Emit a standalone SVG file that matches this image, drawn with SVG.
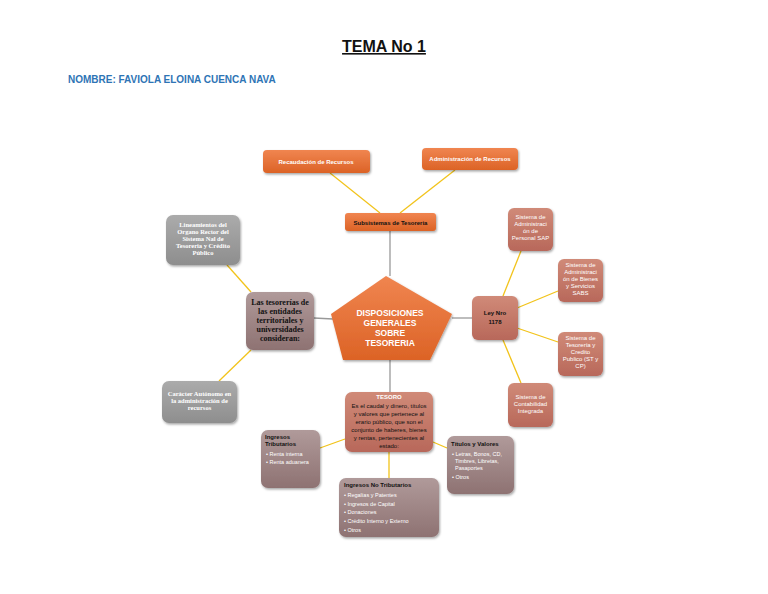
<svg xmlns="http://www.w3.org/2000/svg" width="768" height="594" viewBox="0 0 768 594">
<defs>
<linearGradient id="or" x1="0" y1="0" x2="0" y2="1"><stop offset="0" stop-color="#F08550"/><stop offset="1" stop-color="#DC6326"/></linearGradient>
<linearGradient id="rs" x1="0" y1="0" x2="0" y2="1"><stop offset="0" stop-color="#D08A78"/><stop offset="1" stop-color="#B8685A"/></linearGradient>
<linearGradient id="gr" x1="0" y1="0" x2="0" y2="1"><stop offset="0" stop-color="#ABABAB"/><stop offset="1" stop-color="#8E8E8E"/></linearGradient>
<linearGradient id="mv" x1="0" y1="0" x2="0" y2="1"><stop offset="0" stop-color="#B09A9A"/><stop offset="1" stop-color="#8E7272"/></linearGradient>
<filter id="sh" x="-20%" y="-20%" width="140%" height="140%"><feDropShadow dx="1" dy="1.5" stdDeviation="1.2" flood-opacity="0.35"/></filter>
</defs>
<style>
.s{font-family:"Liberation Sans",Arial,sans-serif}
.w{fill:#fff;font-family:"Liberation Sans",Arial,sans-serif;font-size:6px;text-anchor:middle}
.k{fill:#111;font-family:"Liberation Sans",Arial,sans-serif;font-size:6px}
.t{fill:#111;font-family:"Liberation Serif","Times New Roman",serif;font-weight:bold;font-size:8px;text-anchor:middle}
.tw{fill:#fff;font-family:"Liberation Serif","Times New Roman",serif;font-weight:bold;font-size:6.5px;text-anchor:middle}
.y{stroke:#F2C31A;stroke-width:1.3;fill:none}
.g{stroke:#999;stroke-width:1.3;fill:none}
.b{fill:#fff;font-family:"Liberation Sans",Arial,sans-serif;font-size:5.5px}
</style>
<rect width="768" height="594" fill="#fff"/>
<text x="384" y="52" class="s" font-size="16" font-weight="bold" text-anchor="middle" fill="#111" text-decoration="underline">TEMA No 1</text>
<text x="68" y="83" class="s" font-size="10" font-weight="bold" fill="#2E74B5">NOMBRE: FAVIOLA ELOINA CUENCA NAVA</text>
<g id="connectors">
<line class="y" x1="330" y1="173" x2="380" y2="213"/>
<line class="y" x1="455" y1="170" x2="400" y2="213"/>
<line class="g" x1="390" y1="231" x2="390" y2="276"/>
<line class="g" x1="314" y1="318" x2="333" y2="319"/>
<line class="g" x1="452" y1="318" x2="472" y2="318"/>
<line class="g" x1="390" y1="360" x2="390" y2="392"/>
<line class="y" x1="227" y1="265" x2="251" y2="292"/>
<line class="y" x1="219" y1="381" x2="251" y2="350"/>
<line class="y" x1="503" y1="296" x2="521" y2="251"/>
<line class="y" x1="517" y1="308" x2="558" y2="291"/>
<line class="y" x1="517" y1="328" x2="558" y2="342"/>
<line class="y" x1="503" y1="340" x2="521" y2="383"/>
<line class="y" x1="320" y1="448" x2="345" y2="439"/>
<line class="y" x1="433" y1="442" x2="447" y2="448"/>
<line class="y" x1="389" y1="452" x2="389" y2="478"/>
</g>
<g id="recaudacion"><rect x="263" y="150" width="107" height="23" rx="4" fill="url(#or)" filter="url(#sh)"/><text x="316" y="163.5" class="w" font-weight="bold">Recaudación de Recursos</text></g>
<g id="administracion"><rect x="422" y="148" width="96" height="22" rx="4" fill="url(#or)" filter="url(#sh)"/><text x="470" y="161" class="w" font-weight="bold">Administración de Recursos</text></g>
<g id="subsistemas"><rect x="345" y="213" width="91" height="18" rx="3" fill="url(#or)" filter="url(#sh)"/><text x="390.5" y="224.5" class="k" font-weight="bold" text-anchor="middle">Subsistemas de Tesoreria</text></g>
<g id="disposiciones"><polygon points="386,276 452,314 430,360 343,360 331,314" fill="url(#or)" filter="url(#sh)"/>
<text x="390" y="316" class="s" font-size="8.5" font-weight="bold" fill="#fff" text-anchor="middle">DISPOSICIONES</text>
<text x="390" y="326" class="s" font-size="8.5" font-weight="bold" fill="#fff" text-anchor="middle">GENERALES</text>
<text x="390" y="336" class="s" font-size="8.5" font-weight="bold" fill="#fff" text-anchor="middle">SOBRE</text>
<text x="390" y="346" class="s" font-size="8.5" font-weight="bold" fill="#fff" text-anchor="middle">TESORERIA</text></g>
<g id="tesorerias"><rect x="246" y="292" width="68" height="58" rx="7" fill="url(#mv)" filter="url(#sh)"/>
<text class="t"><tspan x="280" y="305">Las tesorerías de</tspan><tspan x="280" y="314">las entidades</tspan><tspan x="280" y="323">territoriales y</tspan><tspan x="280" y="332">universidades</tspan><tspan x="280" y="341">consideran:</tspan></text></g>
<g id="lineamientos"><rect x="166" y="215" width="74" height="50" rx="7" fill="url(#gr)" filter="url(#sh)"/>
<text class="tw"><tspan x="203" y="227">Lineamientos del</tspan><tspan x="203" y="234">Organo Rector del</tspan><tspan x="203" y="241">Sistema Nal de</tspan><tspan x="203" y="248">Tesoreria y Crédito</tspan><tspan x="203" y="255">Público</tspan></text></g>
<g id="caracter"><rect x="162" y="381" width="75" height="42" rx="7" fill="url(#gr)" filter="url(#sh)"/>
<text class="tw"><tspan x="199.5" y="396">Carácter Autónomo en</tspan><tspan x="199.5" y="403">la administración de</tspan><tspan x="199.5" y="410">recursos</tspan></text></g>
<g id="ley"><rect x="472" y="296" width="46" height="44" rx="6" fill="url(#rs)" filter="url(#sh)"/>
<text class="k" font-size="7" font-weight="bold" text-anchor="middle"><tspan x="495" y="315">Ley Nro</tspan><tspan x="495" y="324">1178</tspan></text></g>
<g id="sap"><rect x="508" y="208" width="45" height="43" rx="6" fill="url(#rs)" filter="url(#sh)"/>
<text class="w" font-size="5.5"><tspan x="530.5" y="219">Sistema de</tspan><tspan x="530.5" y="226">Administraci</tspan><tspan x="530.5" y="233">ón de</tspan><tspan x="530.5" y="240">Personal SAP</tspan></text></g>
<g id="sabs"><rect x="558" y="259" width="45" height="43" rx="6" fill="url(#rs)" filter="url(#sh)"/>
<text class="w" font-size="5.5"><tspan x="580.5" y="267">Sistema de</tspan><tspan x="580.5" y="274">Administraci</tspan><tspan x="580.5" y="281">ón de Bienes</tspan><tspan x="580.5" y="288">y Servicios</tspan><tspan x="580.5" y="295">SABS</tspan></text></g>
<g id="st"><rect x="558" y="332" width="45" height="44" rx="6" fill="url(#rs)" filter="url(#sh)"/>
<text class="w" font-size="5.5"><tspan x="580.5" y="340">Sistema de</tspan><tspan x="580.5" y="347">Tesorería y</tspan><tspan x="580.5" y="354">Credito</tspan><tspan x="580.5" y="361">Publico (ST y</tspan><tspan x="580.5" y="368">CP)</tspan></text></g>
<g id="contabilidad"><rect x="508" y="383" width="45" height="44" rx="6" fill="url(#rs)" filter="url(#sh)"/>
<text class="w" font-size="5.5"><tspan x="530.5" y="399">Sistema de</tspan><tspan x="530.5" y="406">Contabilidad</tspan><tspan x="530.5" y="413">Integrada</tspan></text></g>
<g id="tesoro"><rect x="345" y="392" width="88" height="60" rx="7" fill="url(#rs)" filter="url(#sh)"/>
<text class="w" font-weight="bold" x="389" y="399">TESORO</text>
<text class="k" font-size="5.5" text-anchor="middle"><tspan x="389" y="408">Es el caudal y dinero, títulos</tspan><tspan x="389" y="416">y valores que pertenece al</tspan><tspan x="389" y="424">erario público, que son el</tspan><tspan x="389" y="432">conjunto de haberes, bienes</tspan><tspan x="389" y="440">y rentas, pertenecientes al</tspan><tspan x="389" y="448">estado:</tspan></text></g>
<g id="tributarios"><rect x="261" y="430" width="59" height="58" rx="7" fill="url(#mv)" filter="url(#sh)"/>
<text class="k" font-size="5.5" font-weight="bold"><tspan x="265" y="439">Ingresos</tspan><tspan x="265" y="446">Tributarios</tspan></text>
<text class="b"><tspan x="266" y="456">• Renta interna</tspan><tspan x="266" y="464">• Renta aduanera</tspan></text></g>
<g id="titulos"><rect x="447" y="436" width="67" height="58" rx="7" fill="url(#mv)" filter="url(#sh)"/>
<text class="k" font-size="5.5" font-weight="bold" x="451" y="446">Títulos y Valores</text>
<text class="b"><tspan x="452" y="456">• Letras, Bonos, CD,</tspan><tspan x="455" y="463">Timbres, Libretas,</tspan><tspan x="455" y="470">Pasaportes</tspan><tspan x="452" y="479">• Otros</tspan></text></g>
<g id="notributarios"><rect x="339" y="478" width="100" height="59" rx="7" fill="url(#mv)" filter="url(#sh)"/>
<text class="k" font-size="5.5" font-weight="bold" x="344" y="487">Ingresos No Tributarios</text>
<text class="b"><tspan x="344" y="497">• Regalías y Patentes</tspan><tspan x="344" y="506">• Ingresos de Capital</tspan><tspan x="344" y="514">• Donaciones</tspan><tspan x="344" y="523">• Crédito Interno y Externo</tspan><tspan x="344" y="532">• Otros</tspan></text></g>
</svg>
